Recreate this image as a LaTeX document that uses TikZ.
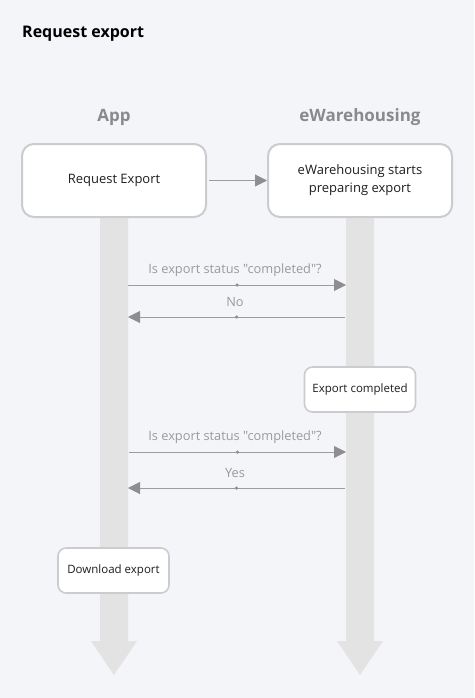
\documentclass[tikz,border=0pt]{standalone}
\usepackage{fontspec}
\setmainfont{Open Sans}[Ligatures=TeXOff]
\usetikzlibrary{arrows.meta}
\definecolor{bg}{HTML}{F4F5F8}
\definecolor{life}{HTML}{E3E3E4}
\definecolor{boxline}{HTML}{CBCCD0}
\definecolor{msgline}{HTML}{9C9C9E}
\definecolor{msghead}{HTML}{8E8E90}
\definecolor{lbl}{HTML}{9A9A9C}
\definecolor{actor}{HTML}{8A8A8C}
\definecolor{txt}{HTML}{1E1E1E}
\tikzset{
  x=1pt, y=-1pt,
  bigbox/.style={draw=boxline, line width=2pt, fill=white, rounded corners=12pt,
    minimum width=184pt, minimum height=73pt, align=center, text=txt,
    font=\fontsize{13}{18}\selectfont, inner sep=0pt},
  smallbox/.style={draw=boxline, line width=1.6pt, fill=white, rounded corners=8pt,
    minimum width=111pt, minimum height=45pt, align=center, text=txt,
    font=\fontsize{11.5}{14}\selectfont, inner sep=0pt},
  actorlbl/.style={text=actor, font=\bfseries\fontsize{17}{20}\selectfont, inner sep=0pt},
  msg/.style={draw=msgline, line width=1pt, -{Triangle[length=12pt,width=12pt,fill=msghead,color=msghead]}},
  msglbl/.style={text=lbl, font=\fontsize{12.8}{15}\selectfont, inner sep=0pt},
  middot/.style={circle, fill=msghead, inner sep=0pt, minimum size=3.5pt},
  lifefill/.style={fill=life, draw=none},
}
\begin{document}
\begin{tikzpicture}
\useasboundingbox (0,0) rectangle (474,698);
\fill[bg] (0,0) rectangle (474,698);

% lifelines
\fill[lifefill] (100,215) -- (128,215) -- (128,641) -- (137,641) -- (114,675) -- (91,641) -- (100,641) -- cycle;
\fill[lifefill] (346,215) -- (374,215) -- (374,641) -- (383,641) -- (360,675) -- (337,641) -- (346,641) -- cycle;

% title and actors
\node[anchor=west, text=black, font=\bfseries\fontsize{16}{19}\selectfont, inner sep=0pt] (title) at (22,33.5) {Request export};
\node[actorlbl] (app) at (114,117) {App};
\node[actorlbl] (ew) at (360,117) {eWarehousing};

% boxes
\node[bigbox] (req) at (114,180.5) {Request Export};
\node[bigbox] (prep) at (360,180.5) {eWarehousing starts\\preparing export};
\coordinate (reqout) at ([xshift=2pt]req.east);
\draw[msg] (reqout) -- (prep.west);

\node[smallbox] (done) at (360,389.5) {Export completed};
\node[smallbox] (dl) at (113.5,570.5) {Download export};

% lifeline anchor coordinates
\coordinate (a1) at (128,285);
\coordinate (e1) at (346,285);
\coordinate (e2) at (345,317);
\coordinate (a2) at (128,317);
\coordinate (a3) at (129,452);
\coordinate (e3) at (346,452);
\coordinate (e4) at (345,488);
\coordinate (a4) at (128,488);

% messages
\draw[msg] (a1) -- node[middot] {} (e1);
\node[msglbl] (l1) at (235,270.5) {Is export status "completed"?};
\draw[msg] (e2) -- node[middot] {} (a2);
\node[msglbl] (l2) at (235,302) {No};
\draw[msg] (a3) -- node[middot] {} (e3);
\node[msglbl] (l3) at (235,437.5) {Is export status "completed"?};
\draw[msg] (e4) -- node[middot] {} (a4);
\node[msglbl] (l4) at (235,472.5) {Yes};
\end{tikzpicture}
\end{document}
